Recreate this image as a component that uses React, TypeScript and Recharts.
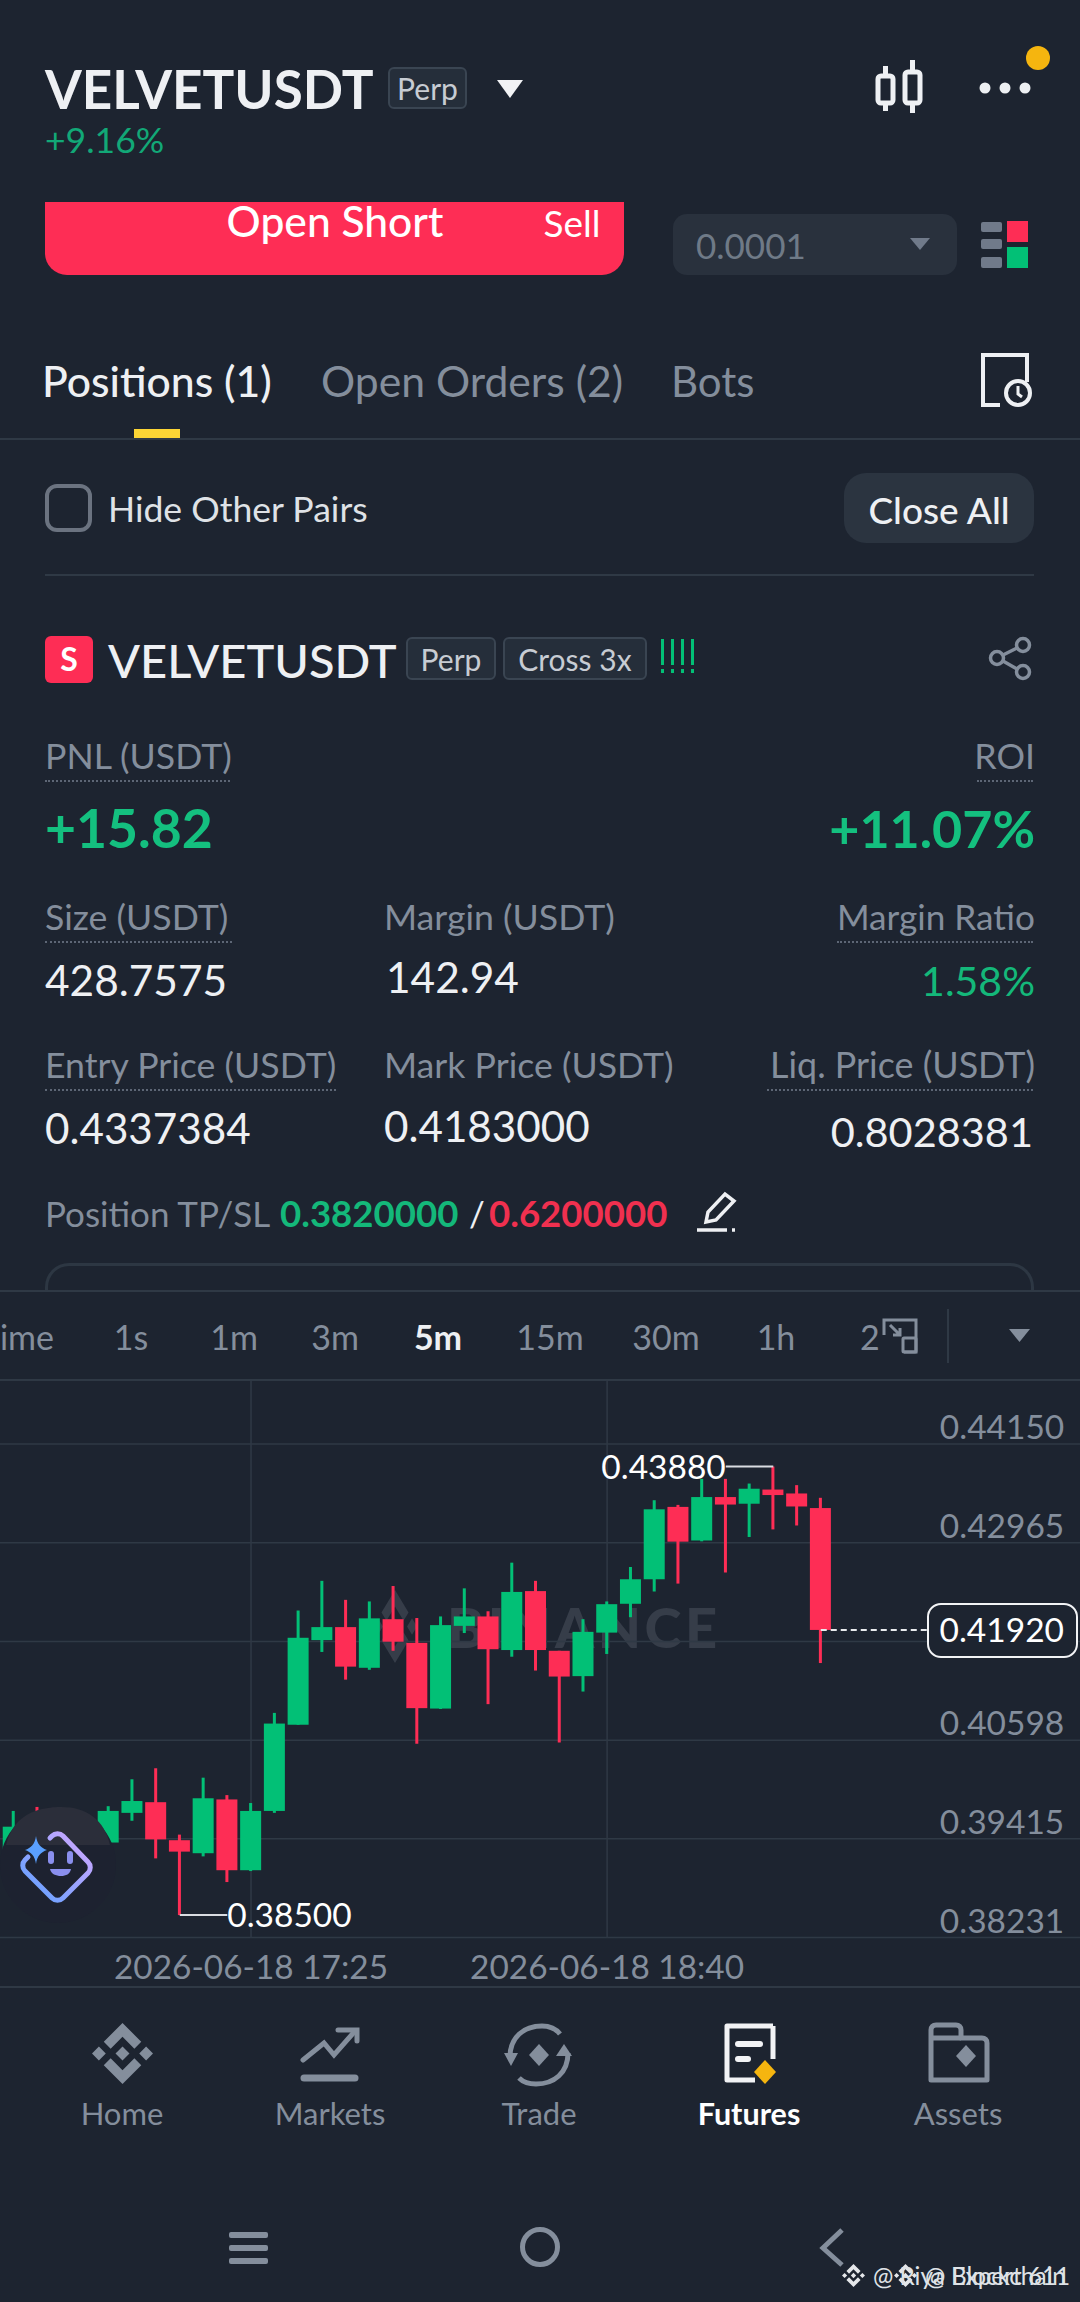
import React from 'react';
import { Bar, BarChart, CartesianGrid, ReferenceLine, XAxis, YAxis } from 'recharts';

const leadingSlots = ['16:30'];
const candleTimes = [
  '16:35', '16:40', '16:45', '16:50', '16:55', '17:00', '17:05', '17:10', '17:15', '17:20',
  '17:25', '17:30', '17:35', '17:40', '17:45', '17:50', '17:55', '18:00', '18:05', '18:10',
  '18:15', '18:20', '18:25', '18:30', '18:35', '18:40', '18:45', '18:50', '18:55', '19:00',
  '19:05', '19:10', '19:15', '19:20', '19:25'
];
const futureSlots = ['19:30', '19:35', '19:40', '19:45', '19:50', '19:55', '20:00', '20:05', '20:10', '20:15', '20:20'];

const opens = [
  0.39052, 0.3964, 0.3925, 0.3952, 0.3937, 0.39726, 0.39854, 0.39398, 0.39242, 0.39887,
  0.39038, 0.39749, 0.40783, 0.41798, 0.41954, 0.41466, 0.42049, 0.41765, 0.40977, 0.41969,
  0.42082, 0.41679, 0.42386, 0.4167, 0.41366, 0.41888, 0.42234, 0.42528, 0.43396, 0.42993,
  0.43514, 0.43434, 0.43604, 0.43557, 0.43382
];
const highs = [
  0.39749, 0.39797, 0.3956, 0.396, 0.39806, 0.40129, 0.40261, 0.39465, 0.40148, 0.39939,
  0.39844, 0.40925, 0.42153, 0.42509, 0.42281, 0.42262, 0.42447, 0.42063, 0.42082, 0.42419,
  0.42144, 0.42727, 0.42509, 0.4167, 0.42049, 0.42262, 0.42675, 0.43476, 0.4342, 0.43732,
  0.43732, 0.43676, 0.4388, 0.43657, 0.43505
];
const lows = [
  0.38943, 0.391, 0.3912, 0.392, 0.3937, 0.39631, 0.3918, 0.385, 0.39204, 0.38896,
  0.39028, 0.39726, 0.40783, 0.41656, 0.41324, 0.41442, 0.4167, 0.40555, 0.40972, 0.41883,
  0.4103, 0.41599, 0.41433, 0.4057, 0.41181, 0.41632, 0.42073, 0.42381, 0.42476, 0.42983,
  0.42609, 0.43035, 0.43126, 0.43173, 0.41523
];
const closes = [
  0.3956, 0.3925, 0.3948, 0.393, 0.39749, 0.39868, 0.39408, 0.39261, 0.39901, 0.39038,
  0.39749, 0.40797, 0.41826, 0.41954, 0.4148, 0.42059, 0.41779, 0.40982, 0.41978, 0.42082,
  0.41689, 0.42376, 0.41679, 0.41361, 0.41897, 0.42229, 0.42528, 0.43367, 0.42979, 0.43514,
  0.43424, 0.43614, 0.43538, 0.43401, 0.4192
];

const priceTicks = [0.38231, 0.39415, 0.40598, 0.41782, 0.42965, 0.4415];
const timeTicks = ['17:25', '18:40'];
const tradeDate = '2026-06-18';
const lowPrice = 0.385;
const highPrice = 0.4388;
const lastPrice = 0.4192;

const rows = [
  ...leadingSlots.map(time => ({ time })),
  ...candleTimes.map((time, i) => ({
    time,
    open: opens[i],
    high: highs[i],
    low: lows[i],
    close: closes[i],
    range: [lows[i], highs[i]]
  })),
  ...futureSlots.map(time => ({ time }))
];

const BG = '#1d2430';
const GREEN = '#02c076';
const RED = '#fe2d55';
const GRAY = '#848e9c';
const WHITE = '#eef0f3';
const LINE = '#2f3945';
const FONT = 'Lato, Inter, sans-serif';

const BNB =
  'M38.73 53.2l24.59-24.58 24.6 24.6 14.3-14.31L63.32 0 24.43 38.9zM0 63.31l14.3-14.31 14.31 14.31-14.31 14.3zM38.73 73.41l24.59 24.59 24.6-24.6 14.31 14.29-38.9 38.91-38.91-38.88-.02-.02zM98 63.31l14.3-14.31 14.31 14.3-14.31 14.32zM77.83 63.3L63.32 48.78 52.59 59.51l-1.24 1.23-2.54 2.54 14.51 14.5 14.51-14.47z';

function Candle(props: any) {
  const { x, y, width, height, payload } = props;
  if (!payload || payload.high === undefined) return null;
  const color = payload.close >= payload.open ? GREEN : RED;
  const perPrice = height / (payload.high - payload.low);
  const bodyTop = y + (payload.high - Math.max(payload.open, payload.close)) * perPrice;
  const bodyH = Math.abs(payload.open - payload.close) * perPrice;
  return (
    <g>
      <rect x={x + width / 2 - 1.5} y={y} width={3} height={height} fill={color} />
      <rect x={x} y={bodyTop} width={width} height={bodyH} fill={color} />
    </g>
  );
}

function PriceTick(props: any) {
  const { y, payload } = props;
  // right edge of the labels, in chart coordinates
  return (
    <text x={1086.3} y={y - 17} dy="0.36em" textAnchor="end" fill={GRAY} fontSize={33.5} fontFamily={FONT}>
      {payload.value.toFixed(5)}
    </text>
  );
}

function TimeTick(props: any) {
  const { x, y, payload } = props;
  return (
    <text x={x} y={y + 21} dy="0.36em" textAnchor="middle" fill={GRAY} fontSize={33.4} fontFamily={FONT}>
      {tradeDate} {payload.value}
    </text>
  );
}

function LowLabel(props: any) {
  const { viewBox } = props;
  return (
    <text x={viewBox.x + viewBox.width} y={viewBox.y} dy="0.36em" fill="#fff" fontSize={33.5} fontFamily={FONT}>
      {lowPrice.toFixed(5)}
    </text>
  );
}

function HighLabel(props: any) {
  const { viewBox } = props;
  return (
    <text x={viewBox.x} y={viewBox.y} dy="0.36em" textAnchor="end" fill="#fff" fontSize={33.5} fontFamily={FONT}>
      {highPrice.toFixed(5)}
    </text>
  );
}

function CandleChart() {
  return (
    <BarChart
      width={1115.78}
      height={607}
      data={rows}
      margin={{ top: 0, right: 0, bottom: 0, left: 0 }}
      barSize={21}
    >
      <CartesianGrid stroke={LINE} strokeWidth={1.5} />
      <XAxis
        dataKey="time"
        ticks={timeTicks}
        interval={0}
        height={49.5}
        axisLine={false}
        tickLine={false}
        tick={<TimeTick />}
      />
      <YAxis
        orientation="right"
        mirror
        width={60}
        domain={[0.38231, 0.44918]}
        ticks={priceTicks}
        interval={0}
        axisLine={false}
        tickLine={false}
        tick={<PriceTick />}
      />
      <ReferenceLine
        segment={[{ x: '19:25', y: lastPrice }, { x: '19:50', y: lastPrice }]}
        stroke="#e8eaed"
        strokeWidth={2}
        strokeDasharray="6 4"
      />
      <Bar dataKey="range" shape={<Candle />} isAnimationActive={false} />
      <ReferenceLine
        segment={[{ x: '17:10', y: lowPrice }, { x: '17:20', y: lowPrice }]}
        stroke="#d9dce1"
        strokeWidth={2}
        label={<LowLabel />}
      />
      <ReferenceLine
        segment={[{ x: '19:05', y: highPrice }, { x: '19:15', y: highPrice }]}
        stroke="#d9dce1"
        strokeWidth={2}
        label={<HighLabel />}
      />
    </BarChart>
  );
}

function T({ x, y, a = 'left', s, c = WHITE, w = 400, ls, children }: any) {
  const style: any = {
    position: 'absolute',
    top: y,
    fontSize: s,
    color: c,
    fontWeight: w,
    letterSpacing: ls,
    lineHeight: 1,
    whiteSpace: 'nowrap',
    transform: a === 'center' ? 'translate(-50%,-50%)' : 'translateY(-50%)'
  };
  if (a === 'right') style.right = 1080 - x;
  else style.left = x;
  return <div style={style}>{children}</div>;
}

function Box({ x, y, w, h, ...rest }: any) {
  return <div style={{ position: 'absolute', left: x, top: y, width: w, height: h, boxSizing: 'border-box', ...rest }} />;
}

function Dotted({ x1, x2, y }: any) {
  return <Box x={x1} y={y} w={x2 - x1} h={2} borderTop="2px dotted #5d6675" />;
}

function Badge({ x, y, w, h, label }: any) {
  return (
    <div
      style={{
        position: 'absolute',
        left: x,
        top: y,
        width: w,
        height: h,
        boxSizing: 'border-box',
        border: '2px solid #3a4552',
        borderRadius: 6,
        background: '#252e3a',
        color: '#c7ccd3',
        fontSize: 30,
        display: 'flex',
        alignItems: 'center',
        justifyContent: 'center'
      }}
    >
      {label}
    </div>
  );
}

function Icons() {
  return (
    <svg width={1080} height={2302} style={{ position: 'absolute', left: 0, top: 0 }}>
      {/* header */}
      <polygon points="497,80 523,80 510,98" fill="#f2f3f5" />
      <g fill="none" stroke="#eef0f3" strokeWidth={5}>
        <rect x={878} y={76} width={15} height={27} rx={3} />
        <rect x={905} y={72} width={15} height={31} rx={3} />
        <path d="M885.5 66v10M885.5 103v8M912.5 60v12M912.5 103v10" />
      </g>
      <circle cx={985} cy={88} r={5.5} fill="#eef0f3" />
      <circle cx={1005} cy={88} r={5.5} fill="#eef0f3" />
      <circle cx={1025} cy={88} r={5.5} fill="#eef0f3" />
      <circle cx={1038} cy={58} r={12} fill="#f5b50f" />
      <polygon points="910,238 930,238 920,250" fill="#707a8a" />
      <g fill="#707a8a">
        <rect x={981} y={222} width={21} height={10} rx={2} />
        <rect x={981} y={239} width={21} height={10} rx={2} />
        <rect x={981} y={257} width={21} height={11} rx={2} />
      </g>
      <rect x={1007} y={221} width={21} height={21} fill={RED} />
      <rect x={1007} y={247} width={21} height={21} fill={GREEN} />
      <g fill="none" stroke="#eef0f3" strokeWidth={4}>
        <path d="M1000 405h-17v-50h44v27" />
        <circle cx={1018} cy={393} r={12} />
        <path d="M1018 386v8l4 3" strokeWidth={3} />
      </g>
      {/* position card */}
      <g fill="none" stroke={GRAY} strokeWidth={3.5}>
        <circle cx={1023} cy={645} r={6.5} />
        <circle cx={997} cy={658} r={6.5} />
        <circle cx={1023} cy={672} r={6.5} />
        <path d="M1003 655l14-7M1003 661l14 8" />
      </g>
      <g fill={GREEN}>
        <rect x={661} y={639} width={3} height={26} />
        <rect x={671} y={639} width={3} height={26} />
        <rect x={681} y={639} width={3} height={26} />
        <rect x={691} y={639} width={3} height={26} />
        <rect x={661} y={669} width={3} height={4} />
        <rect x={671} y={669} width={3} height={4} />
        <rect x={681} y={669} width={3} height={4} />
        <rect x={691} y={669} width={3} height={4} />
      </g>
      <g fill="none" stroke="#eef0f3" strokeWidth={3.5}>
        <path d="M706 1222l2-10 17-18 9 7-18 19z" />
        <path d="M697 1230h30M732 1230h3" />
      </g>
      {/* toolbar */}
      <line x1={948} y1={1309} x2={948} y2={1363} stroke={LINE} strokeWidth={2} />
      <polygon points="1009,1329 1030,1329 1019.5,1342" fill={GRAY} />
      <g fill="none" stroke={GRAY} strokeWidth={3}>
        <path d="M884 1335v-15h32v32h-12" />
        <rect x={903} y={1338} width={13} height={14} rx={1} />
        <path d="M890 1325l10 10M900 1328v7h-7" />
      </g>
      {/* bottom nav */}
      <svg x={92} y={2023} width={61} height={61} viewBox="0 0 126.61 126.61" preserveAspectRatio="none">
        <path d={BNB} fill={GRAY} />
      </svg>
      <g fill="none" stroke={GRAY} strokeWidth={5} strokeLinecap="round">
        <path d="M303 2060l21-17 10 12 21-24" />
        <path d="M338 2030h19v11" />
        <path d="M304 2078h51" strokeWidth={7} />
      </g>
      <g fill="none" stroke={GRAY} strokeWidth={5}>
        <path d="M510 2057c0-20 14-31 32-31 8 0 14 3 18 8" />
        <path d="M568 2053c0 20-14 31-32 31-7 0-13-2-17-6" />
      </g>
      <polygon points="504,2053 518,2053 511,2066" fill={GRAY} />
      <polygon points="556,2056 572,2056 564,2044" fill={GRAY} />
      <polygon points="539,2044 549,2055 539,2066 529,2055" fill={GRAY} />
      <g fill="none" stroke="#f2f3f5" strokeWidth={5}>
        <path d="M773 2026h-46v54h28" strokeLinejoin="round" />
        <path d="M773 2026v33" />
      </g>
      <rect x={735} y={2041} width={28} height={6} rx={3} fill="#f2f3f5" />
      <rect x={735} y={2056} width={16} height={6} rx={3} fill="#f2f3f5" />
      <polygon points="765,2060 776,2072 765,2084 754,2072" fill="#f5b50f" />
      <g fill="none" stroke={GRAY} strokeWidth={5} strokeLinejoin="round">
        <path d="M931 2033v-3c0-3 2-5 5-5h20c3 0 5 2 5 5v8h21c3 0 5 2 5 5v37c0 0 0 0 0 0h-56z" />
        <path d="M931 2038h30" />
      </g>
      <polygon points="966,2045 976,2056 966,2067 956,2056" fill={GRAY} />
      {/* system nav */}
      <rect x={229} y={2232} width={39} height={6} rx={2} fill={GRAY} />
      <rect x={229} y={2245} width={39} height={6} rx={2} fill={GRAY} />
      <rect x={229} y={2258} width={39} height={6} rx={2} fill={GRAY} />
      <circle cx={540} cy={2247} r={17.5} fill="none" stroke={GRAY} strokeWidth={5} />
      <path d="M842 2230l-19 18 19 17" fill="none" stroke={GRAY} strokeWidth={5} />
      {/* repost watermark */}
      <svg x={842} y={2264} width={23} height={23} viewBox="0 0 126.61 126.61">
        <path d={BNB} fill="#e5e7ea" />
      </svg>
      <svg x={894} y={2264} width={23} height={23} viewBox="0 0 126.61 126.61">
        <path d={BNB} fill="#e5e7ea" />
      </svg>
    </svg>
  );
}

function Avatar() {
  return (
    <svg width={130} height={140} style={{ position: 'absolute', left: 0, top: 1800 }}>
      <defs>
        <linearGradient id="rim" x1="0" y1="1" x2="1" y2="0">
          <stop offset="0%" stopColor="#5aa0ff" />
          <stop offset="100%" stopColor="#d8a8ff" />
        </linearGradient>
      </defs>
      <circle cx={58} cy={65} r={58} fill="#1d2230" />
      <path d="M6 45C12 20 30 8 58 7s46 12 52 38H6z" fill="#2b2e3a" />
      <path
        d="M28 57l-3 3c-3 3-3 8 0 11l27 27c3 3 8 3 11 0l25-25c3-3 3-8 0-11L63 36c-3-3-8-3-11 0l-2 2"
        fill="none"
        stroke="url(#rim)"
        strokeWidth={5}
        strokeLinecap="round"
      />
      <path d="M36 36c1 8 5 12 11 14-6 2-10 6-11 14-1-8-5-12-11-14 6-2 10-6 11-14z" fill="#5aa0ff" />
      <rect x={48} y={51} width={6} height={13} rx={3} fill="#8a8fee" />
      <rect x={67} y={51} width={6} height={13} rx={3} fill="#8a8fee" />
      <path d="M50 69h21c-1 5-5 7-10 7s-10-2-11-7z" fill="#8a8fee" />
    </svg>
  );
}

export default function App() {
  return (
    <div
      style={{
        position: 'absolute',
        left: 0,
        top: 0,
        width: 1080,
        height: 2302,
        overflow: 'hidden',
        background: BG,
        fontFamily: FONT,
        color: WHITE
      }}
    >
      {/* header */}
      <T x={45} y={88} s={53} w={700}>VELVETUSDT</T>
      <Badge x={388} y={67} w={79} h={42} label="Perp" />
      <T x={45} y={140} s={35.5} c="#12a877">+9.16%</T>

      <div style={{ position: 'absolute', left: 45, top: 202, width: 579, height: 73, background: RED, borderRadius: '0 0 22px 22px' }} />
      <T x={335} y={221} a="center" s={42.6} c="#fff" w={500}>Open Short</T>
      <T x={572} y={222} a="center" s={37} c="#fff">Sell</T>
      <Box x={673} y={214} w={284} h={61} background="#29313d" borderRadius={14} />
      <T x={696} y={245} s={35} c="#6f7a87">0.0001</T>

      <T x={42} y={381} s={42.7} w={500}>Positions (1)</T>
      <T x={321} y={381} s={42.7} c={GRAY}>Open Orders (2)</T>
      <T x={671} y={381} s={42} c={GRAY}>Bots</T>
      <Box x={134} y={429} w={46} h={9} background="#fcd535" />
      <Box x={0} y={438} w={1080} h={2} background={LINE} />

      <Box x={45} y={484} w={47} h={48} border="4px solid #6b7380" borderRadius={12} />
      <T x={108} y={509} s={35.6} c="#dfe2e6">Hide Other Pairs</T>
      <Box x={844} y={473} w={190} h={70} background="#2b3440" borderRadius={22} />
      <T x={939} y={509} a="center" s={37} w={500}>Close All</T>
      <Box x={45} y={574} w={989} h={2} background={LINE} />

      {/* position */}
      <Box x={45} y={636} w={48} h={47} background={RED} borderRadius={6} />
      <T x={69} y={659} a="center" s={32} c="#fff" w={700}>S</T>
      <T x={108} y={660} s={47} w={500}>VELVETUSDT</T>
      <Badge x={406} y={637} w={90} h={43} label="Perp" />
      <Badge x={503} y={637} w={144} h={43} label="Cross 3x" />

      <T x={45} y={756} s={35.7} c={GRAY}>PNL (USDT)</T>
      <Dotted x1={45} x2={230} y={780} />
      <T x={1035} y={756} a="right" s={35.7} c={GRAY}>ROI</T>
      <Dotted x1={977} x2={1033} y={780} />
      <T x={45} y={828} s={53.5} c="#14c07f" w={700}>+15.82</T>
      <T x={1035} y={828} a="right" s={52} c="#14c07f" w={700}>+11.07%</T>

      <T x={45} y={917} s={35.7} c={GRAY}>Size (USDT)</T>
      <Dotted x1={45} x2={232} y={941} />
      <T x={384} y={917} s={35.7} c={GRAY}>Margin (USDT)</T>
      <T x={1035} y={917} a="right" s={35.2} c={GRAY}>Margin Ratio</T>
      <Dotted x1={837} x2={1033} y={941} />
      <T x={45} y={980} s={42.4}>428.7575</T>
      <T x={386} y={977} s={42.4}>142.94</T>
      <T x={1035} y={980} a="right" s={41} c="#14b87a">1.58%</T>

      <T x={45} y={1065} s={35.7} c={GRAY}>Entry Price (USDT)</T>
      <Dotted x1={45} x2={336} y={1089} />
      <T x={384} y={1065} s={35.7} c={GRAY}>Mark Price (USDT)</T>
      <T x={1035} y={1065} a="right" s={35.9} c={GRAY}>Liq. Price (USDT)</T>
      <Dotted x1={767} x2={1033} y={1089} />
      <T x={45} y={1128} s={42.2}>0.4337384</T>
      <T x={384} y={1126} s={42.2}>0.4183000</T>
      <T x={1033} y={1132} a="right" s={41.5}>0.8028381</T>

      <T x={45} y={1213} s={35} c={GRAY}>Position TP/SL</T>
      <T x={280} y={1213} s={36.6} c="#14b87a" w={700}>0.3820000</T>
      <T x={469} y={1213} s={35} c="#eef0f3">/</T>
      <T x={489} y={1213} s={36.6} c="#f0304f" w={700}>0.6200000</T>

      <div style={{ position: 'absolute', left: 45, top: 1263, width: 989, height: 28, overflow: 'hidden', boxSizing: 'border-box', border: '3px solid #2d3743', borderBottom: 'none', borderRadius: '24px 24px 0 0' }} />
      <Box x={0} y={1290} w={1080} h={2} background={LINE} />

      {/* interval toolbar */}
      <T x={54} y={1337} a="right" s={34} c={GRAY}>ime</T>
      <T x={131} y={1337} a="center" s={34} c={GRAY}>1s</T>
      <T x={234} y={1337} a="center" s={34} c={GRAY}>1m</T>
      <T x={335} y={1337} a="center" s={34} c={GRAY}>3m</T>
      <T x={438} y={1337} a="center" s={34} w={700}>5m</T>
      <T x={550} y={1337} a="center" s={34} c={GRAY}>15m</T>
      <T x={666} y={1337} a="center" s={34} c={GRAY}>30m</T>
      <T x={776} y={1337} a="center" s={34} c={GRAY}>1h</T>
      <T x={860} y={1337} s={34} c={GRAY}>2</T>
      <Box x={0} y={1379} w={1080} h={2} background={LINE} />

      {/* chart watermark sits under the chart */}
      <svg width={44} height={73} viewBox="0 0 126.61 126.61" preserveAspectRatio="none" style={{ position: 'absolute', left: 373, top: 1590 }}>
        <path d={BNB} fill="#363d49" />
      </svg>
      <T x={447} y={1627} s={56} c="#363d49" w={900} ls={3.5}>BINANCE</T>

      <div style={{ position: 'absolute', left: -22.31, top: 1380 }}>
        <CandleChart />
      </div>
      <Avatar />
      <Box x={927} y={1603} w={151} h={55} background={BG} border="2px solid #f2f3f5" borderRadius={14} />
      <T x={1064} y={1630} a="right" s={33.5} c="#fff">{lastPrice.toFixed(5)}</T>
      <Box x={0} y={1986} w={1080} h={2} background={LINE} />

      {/* bottom nav */}
      <T x={122} y={2113} a="center" s={31} c={GRAY}>Home</T>
      <T x={330} y={2113} a="center" s={31} c={GRAY}>Markets</T>
      <T x={539} y={2113} a="center" s={31} c={GRAY}>Trade</T>
      <T x={749} y={2113} a="center" s={30.5} c="#fff" w={700}>Futures</T>
      <T x={958} y={2113} a="center" s={31} c={GRAY}>Assets</T>

      <Icons />
      <T x={873} y={2276} s={24.3} c="#dfe2e6">@ Riya Blockchain</T>
      <T x={925} y={2276} s={24.3} c="#dfe2e6">@ Expert 611</T>
    </div>
  );
}
